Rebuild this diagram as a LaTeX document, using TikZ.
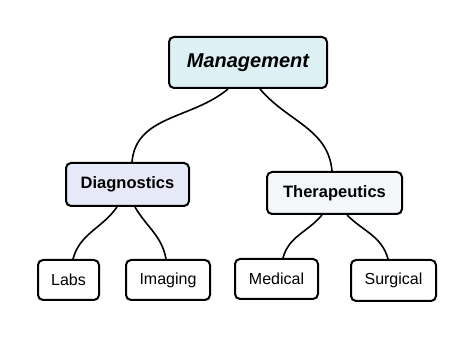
\documentclass[tikz,border=0pt]{standalone}
\usepackage{fontspec}
\setmainfont{Liberation Sans}

\definecolor{mgmtfill}{HTML}{DDF0F4}
\definecolor{diagfill}{HTML}{E6E9F7}
\definecolor{therfill}{HTML}{F4F7FA}

\begin{document}
\begin{tikzpicture}[x=1pt,y=1pt,
    box/.style={draw=black, line width=2pt, rounded corners=5pt,
        inner sep=0pt, align=center},
    top box/.style={box, fill=mgmtfill, minimum width=158pt, minimum height=51pt,
        font=\fontsize{20}{24}\selectfont\bfseries\itshape},
    mid box/.style={box, minimum height=43pt,
        font=\fontsize{16.5}{20}\selectfont\bfseries},
    leaf box/.style={box, fill=white, minimum height=40pt,
        font=\fontsize{16}{19}\selectfont},
    branch/.style={line width=1.6pt}
]

% Page size
\useasboundingbox (0,0) rectangle (474,339);

% --- Top level ---
\node[top box] (mgmt) at (248,276.5) {Management};

% --- Middle level ---
\node[mid box, fill=diagfill, minimum width=123pt] (diag) at (127.5,154.5) {Diagnostics};
\node[mid box, fill=therfill, minimum width=135pt, minimum height=42pt] (ther) at (334.5,146) {Therapeutics};

% --- Leaves ---
\node[leaf box, minimum width=61pt] (labs) at (68.5,59) {Labs};
\node[leaf box, minimum width=84pt] (imag) at (168,59) {Imaging};
\node[leaf box, minimum width=83pt] (medi) at (276.5,60) {Medical};
\node[leaf box, minimum width=85pt, minimum height=41pt] (surg) at (393.5,58.5) {Surgical};

% --- Curved branches ---
\draw[branch] ([xshift=-20pt]mgmt.south) to[out=-140,in=85] ([xshift=4.5pt]diag.north);
\draw[branch] ([xshift=12pt]mgmt.south) to[out=-50,in=95] ([xshift=-2.5pt]ther.north);

\draw[branch] ([xshift=-10.5pt]diag.south) to[out=-125,in=75] ([xshift=4.5pt]labs.north);
\draw[branch] ([xshift=7.5pt]diag.south) to[out=-60,in=100] ([xshift=-2pt]imag.north);

\draw[branch] ([xshift=-12.5pt]ther.south) to[out=-130,in=75] ([xshift=6.5pt]medi.north);
\draw[branch] ([xshift=12.5pt]ther.south) to[out=-45,in=105] ([xshift=-5.5pt]surg.north);

\end{tikzpicture}
\end{document}
